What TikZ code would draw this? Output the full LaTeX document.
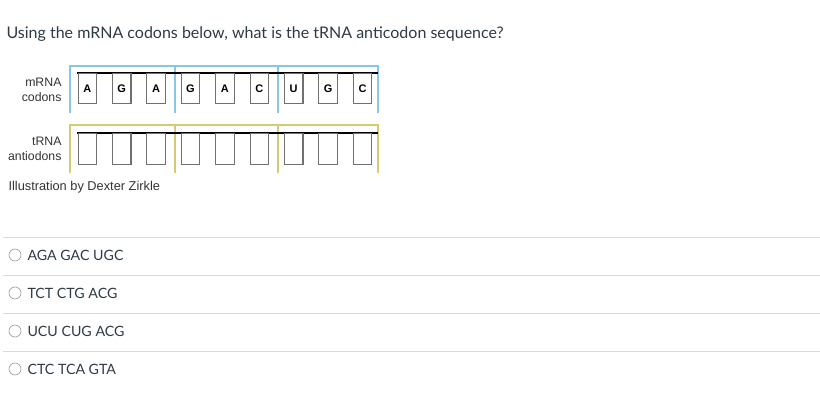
\documentclass[tikz,border=0pt]{standalone}
\usepackage{fontspec}
\setmainfont{Lato}
\newfontfamily\arialfont{Liberation Sans}
\definecolor{canvastext}{HTML}{2D3B45}
\definecolor{mblue}{HTML}{88C6E8}
\definecolor{tyellow}{HTML}{D6CB72}
\definecolor{boxgray}{HTML}{707070}
\tikzset{
	basebox/.style={draw=boxgray,line width=1.1pt,minimum width=18.5pt,minimum height=30pt,inner sep=0pt,anchor=north west},
	rowlabel/.style={anchor=east,align=right,font=\arialfont\fontsize{12.3}{15}\selectfont,text=black!80},
	answer/.style={anchor=west,font=\fontsize{14.2}{16}\selectfont,text=canvastext},
	radio/.style={circle,draw=gray!80,line width=0.6pt,minimum size=12pt,inner sep=0pt},
	sepline/.style={draw=gray!28,line width=0.8pt}
}
\begin{document}
\begin{tikzpicture}[x=1pt,y=-1pt]
				\useasboundingbox (0,0) rectangle (820,401);
				\node[anchor=west,text=canvastext,font=\fontsize{16}{19}\selectfont] (question) at (3,34) {Using the mRNA codons below, what is the tRNA anticodon sequence?};
				% mRNA row
				\node[rowlabel] (mlabel) at (65,90) {mRNA\\codons};
				\draw[mblue,line width=1.2pt] (70,113)--(70,66)--(378,66)--(378,113);
				\draw[mblue,line width=1.2pt] (175,66)--(175,113);
				\draw[mblue,line width=1.2pt] (278,66)--(278,113);
				\draw[line width=1.8pt] (77,73)--(378,73);
				\foreach \b [count=\i from 0] in {A,G,A,G,A,C,U,G,C}
					\node[basebox,font=\arialfont\bfseries\fontsize{11}{11}\selectfont] (m\i) at ({77.5+\i*34.4},73) {\b};
				% tRNA row
				\node[rowlabel] (tlabel) at (65,149) {tRNA\\antiodons};
				\draw[tyellow,line width=1.2pt] (70,173)--(70,125)--(378,125)--(378,173);
				\draw[tyellow,line width=1.2pt] (175,125)--(175,173);
				\draw[tyellow,line width=1.2pt] (278,125)--(278,173);
				\draw[line width=1.8pt] (77,133)--(378,133);
				\foreach \i in {0,...,8}
					\node[basebox,minimum height=31pt] (t\i) at ({77.5+\i*34.4},133) {};
				\node[anchor=west,font=\arialfont\fontsize{12.8}{14}\selectfont,text=black!80] (credit) at (5,187) {Illustration by Dexter Zirkle};
				% answers
				\draw[sepline] (3,237)--(820,237);
				\draw[sepline] (3,275)--(820,275);
				\draw[sepline] (3,313)--(820,313);
				\draw[sepline] (3,351)--(820,351);
				\node[radio] (r1) at (15,255) {};
				\node[answer] (a1) at (24,255) {AGA GAC UGC};
				\node[radio] (r2) at (15,293) {};
				\node[answer] (a2) at (24,293) {TCT CTG ACG};
				\node[radio] (r3) at (15,331) {};
				\node[answer] (a3) at (24,331) {UCU CUG ACG};
				\node[radio] (r4) at (15,369) {};
				\node[answer] (a4) at (24,369) {CTC TCA GTA};
\end{tikzpicture}
\end{document}
